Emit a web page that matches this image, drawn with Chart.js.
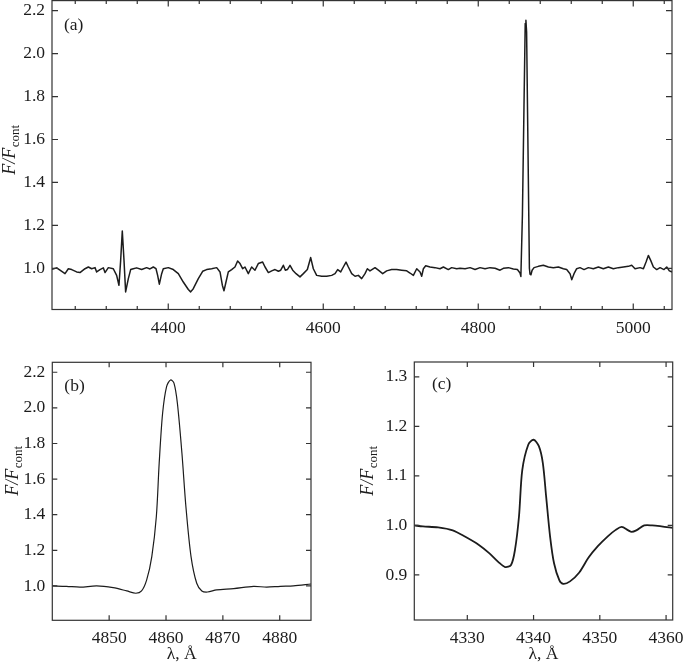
<html lang="en">
<head>
  <meta charset="UTF-8">
  <title>Spectrum</title>
  <script src="https://cdn.jsdelivr.net/npm/chart.js"></script>
  <style>
    body { margin: 0; background: #fff; }
    canvas { position: absolute; }
  </style>
</head>
<body>
  <canvas id="panelA" width="685" height="345" style="left:0; top:0; width:685px; height:345px;"></canvas>
  <canvas id="panelB" width="340" height="323" style="left:0; top:345px; width:340px; height:323px;"></canvas>
  <canvas id="panelC" width="345" height="323" style="left:340px; top:345px; width:345px; height:323px;"></canvas>

  <script>
    // (a) full spectrum, wavelength in A and normalized flux
    const lamA = [
      4250, 4256.0, 4260.3, 4266.8, 4271.1, 4275.4, 4281.8, 4286.1, 4292.6, 4296.9, 4301.2, 4305.5, 4307.6, 4311.9, 4316.2, 4318.4,
      4322.7, 4329.1, 4333.4, 4336.4, 4338.6, 4340.7, 4342.9, 4345.0, 4348.5, 4351.5, 4354.9, 4359.2, 4365.7, 4372.1, 4376.4, 4380.7,
      4384.2, 4386.3, 4388.5, 4391.5, 4393.6, 4400.1, 4406.5, 4413.0, 4419.4, 4425.9, 4428.9, 4432.3, 4438.8, 4444.4, 4449.5, 4456.0,
      4462.5, 4466.8, 4469.8, 4471.9, 4474.5, 4477.5, 4481.8, 4486.1, 4489.5, 4492.6, 4496.0, 4499.0, 4503.3, 4507.6, 4511.9, 4516.2,
      4521.8, 4524.9, 4529.2, 4533.5, 4537.8, 4542.1, 4545.1, 4548.5, 4551.1, 4553.7, 4557.1, 4560.6, 4564.9, 4570.0, 4574.3, 4579.5,
      4583.8, 4587.2, 4591.5, 4598.0, 4604.4, 4610.9, 4615.2, 4618.6, 4622.5, 4625.9, 4629.4, 4632.4, 4636.7, 4641.0, 4645.3, 4649.6,
      4653.9, 4656.9, 4660.3, 4666.8, 4671.1, 4676.7, 4681.8, 4688.3, 4694.7, 4701.2, 4707.7, 4711.9, 4716.3, 4720.6, 4724.9, 4727.0,
      4729.2, 4732.2, 4737.8, 4744.2, 4750.7, 4755.0, 4761.4, 4765.7, 4772.2, 4776.5,
      4783.0, 4789.4, 4795.9, 4802.3, 4808.8, 4815.2, 4821.7, 4828.1, 4832.4, 4838.9, 4845.3, 4850.5, 4853.9,
      4855.0, 4857.0, 4859.0, 4860.6, 4861.5, 4862.4, 4864.2, 4866.0, 4866.8, 4868.0,
      4869.5, 4872.0, 4877.6, 4884.0, 4890.5, 4896.9,
      4903.4, 4909.8, 4914.1, 4918.4, 4920.6, 4923.6, 4927.0, 4931.3, 4936.5, 4942.1, 4948.5, 4955.0, 4961.4, 4967.9, 4974.3, 4980.8,
      4987.3, 4993.7, 4998.0, 5002.3, 5008.8, 5013.1, 5016.5, 5019.5, 5022.5, 5026.0, 5030.3, 5034.6, 5039.7, 5043.2, 5046.6, 5050
    ];
    const fluxA = [
      0.995, 1.002, 0.991, 0.975, 0.998, 0.994, 0.983, 0.980, 0.998, 1.006, 0.998, 1.003, 0.983, 0.994, 1.002, 0.980,
      1.003, 0.998, 0.967, 0.921, 1.037, 1.174, 1.037, 0.890, 0.952, 0.994, 0.998, 1.002, 0.994, 1.003, 0.997, 1.006,
      0.998, 0.967, 0.926, 0.975, 0.998, 1.003, 0.994, 0.975, 0.936, 0.901, 0.890, 0.905, 0.952, 0.986, 0.994, 0.998,
      1.003, 0.983, 0.921, 0.895, 0.936, 0.983, 0.994, 1.006, 1.034, 1.022, 0.998, 1.006, 0.975, 1.006, 0.991, 1.022,
      1.029, 1.006, 0.980, 0.988, 0.994, 0.986, 0.991, 1.014, 0.991, 0.994, 1.014, 0.991, 0.975, 0.960, 0.975, 0.994,
      1.050, 0.998, 0.967, 0.963, 0.963, 0.967, 0.975, 0.994, 0.983, 1.006, 1.029, 1.006, 0.975, 0.963, 0.967, 0.952,
      0.975, 0.998, 0.988, 1.003, 0.991, 0.975, 0.988, 0.994, 0.994, 0.991, 0.988, 0.978, 0.967, 0.998, 0.983, 0.963,
      0.998, 1.012, 1.006, 1.003, 0.998, 1.006, 0.994, 1.003, 0.998, 1.000,
      0.998, 1.003, 0.994, 1.003, 0.998, 1.003, 1.000, 0.991, 1.000, 1.003, 0.997, 0.994, 0.978,
      0.962, 1.250, 1.750, 2.140, 2.155, 2.100, 1.550, 1.000, 0.972, 0.970,
      0.991, 1.003, 1.009, 1.014, 1.006, 1.003,
      1.006, 0.998, 0.994, 0.975, 0.947, 0.975, 0.998, 1.003, 0.994, 1.003, 0.998, 1.006, 0.998, 1.006, 0.998, 1.003,
      1.006, 1.009, 1.014, 0.998, 1.003, 0.998, 1.029, 1.060, 1.037, 1.006, 0.994, 1.003, 0.994, 1.006, 0.988, 0.983
    ];

    // (b) H-beta region
    const lamB = [4840, 4842.5, 4844.9, 4847.8, 4850.7, 4853.1, 4854.7, 4855.7, 4856.6, 4857.5, 4858.3, 4858.8, 4859.4, 4860.1, 4860.8,
      4861.4, 4862.0, 4862.8, 4863.5, 4864.4, 4865.4, 4866.3, 4867.3, 4868.9, 4871.9, 4875.4, 4877.7, 4880.1, 4882.4, 4885.5];
    const fluxB = [1.000, 0.998, 0.993, 1.000, 0.990, 0.972, 0.959, 0.972, 1.034, 1.165, 1.390, 1.690, 1.970, 2.120, 2.157,
      2.139, 2.026, 1.745, 1.445, 1.165, 1.015, 0.972, 0.966, 0.978, 0.985, 0.998, 0.993, 0.998, 1.000, 1.011];

    // (c) H-gamma region
    const lamC = [4322, 4323.3, 4325.6, 4327.8, 4329.7, 4331.7, 4333.3, 4334.7, 4335.7, 4336.6, 4337.2, 4337.8, 4338.3, 4339.2,
      4340.0, 4340.8, 4341.4, 4341.9, 4342.5, 4343.1, 4343.9, 4344.5, 4345.5, 4346.9, 4348.3, 4349.7, 4351.2, 4352.4,
      4353.3, 4354.3, 4354.8, 4355.5, 4356.7, 4357.9, 4359.3, 4361];
    const fluxC = [1.000, 0.998, 0.996, 0.990, 0.977, 0.961, 0.944, 0.926, 0.916, 0.920, 0.951, 1.018, 1.112, 1.163,
      1.173, 1.160, 1.126, 1.058, 0.977, 0.923, 0.889, 0.882, 0.887, 0.905, 0.935, 0.958, 0.978, 0.991,
      0.997, 0.990, 0.987, 0.990, 1.000, 1.000, 0.998, 0.995];

    // tick values
    const xTicksA = [4400, 4600, 4800, 5000];
    const xMinorStepA = 40;
    const yTicksA = [1.0, 1.2, 1.4, 1.6, 1.8, 2.0, 2.2];
    const xTicksB = [4850, 4860, 4870, 4880];
    const yTicksB = [1.0, 1.2, 1.4, 1.6, 1.8, 2.0, 2.2];
    const xTicksC = [4330, 4340, 4350, 4360];
    const yTicksC = [0.9, 1.0, 1.1, 1.2, 1.3];

    const SERIF = '"Liberation Serif", "DejaVu Serif", serif';
    const INK = '#1c1c1c';

    // box frame with inward ticks on all sides, y title with subscript, panel letter
    const frameTicks = {
      id: 'frameTicks',
      afterDatasetsDraw(chart, args, o) {
        const { ctx, chartArea: a, scales: { x, y } } = chart;
        ctx.save();
        ctx.strokeStyle = '#333';
        ctx.lineWidth = 1.2;
        ctx.strokeRect(a.left, a.top, a.right - a.left, a.bottom - a.top);
        ctx.beginPath();
        x.ticks.forEach(t => {
          const px = x.getPixelForValue(t.value);
          const len = t.label === '' ? o.minor : o.major;
          ctx.moveTo(px, a.bottom); ctx.lineTo(px, a.bottom - len);
          ctx.moveTo(px, a.top); ctx.lineTo(px, a.top + len);
        });
        y.ticks.forEach(t => {
          const py = y.getPixelForValue(t.value);
          ctx.moveTo(a.left, py); ctx.lineTo(a.left + o.ylen, py);
          ctx.moveTo(a.right, py); ctx.lineTo(a.right - o.ylen, py);
        });
        ctx.stroke();

        ctx.fillStyle = INK;
        ctx.textBaseline = 'middle';
        ctx.textAlign = 'left';
        ctx.font = '17.5px ' + SERIF;
        ctx.fillText(o.label, o.labelX, o.labelY);

        ctx.translate(o.titleX, o.titleY);
        ctx.rotate(-Math.PI / 2);
        ctx.textBaseline = 'alphabetic';
        ctx.font = 'italic 18px ' + SERIF;
        const w1 = ctx.measureText('F/F').width;
        ctx.font = '13px ' + SERIF;
        const w2 = ctx.measureText('cont').width;
        const sx = -(w1 + w2) / 2;
        ctx.font = 'italic 18px ' + SERIF;
        ctx.fillText('F/F', sx, 0);
        ctx.font = '13px ' + SERIF;
        ctx.fillText('cont', sx + w1 + 0.5, 3.5);
        ctx.restore();
      }
    };

    function makePanel(id, p) {
      const pts = p.lam.map((l, i) => ({ x: l, y: p.flux[i] }));
      return new Chart(document.getElementById(id), {
        type: 'line',
        data: {
          datasets: [{
            data: pts,
            borderColor: INK,
            borderWidth: p.lw,
            pointRadius: 0,
            borderJoinStyle: 'round',
            tension: p.tension
          }]
        },
        options: {
          responsive: false,
          animation: false,
          events: [],
          layout: { padding: { left: 0, top: p.top, right: p.right, bottom: 0 } },
          plugins: {
            legend: { display: false },
            tooltip: { enabled: false },
            frameTicks: p.frame
          },
          scales: {
            x: {
              type: 'linear',
              min: p.xmin,
              max: p.xmax,
              grid: { display: false, drawTicks: false },
              border: { display: false },
              afterBuildTicks: s => { s.ticks = p.xticks.map(v => ({ value: v })); },
              afterFit: s => { s.height = p.xh; s.paddingLeft = 0; s.paddingRight = 0; },
              ticks: {
                autoSkip: false,
                maxRotation: 0,
                padding: 8,
                color: INK,
                font: { family: SERIF, size: 17.5 },
                callback: v => p.xmajor.includes(v) ? String(v) : ''
              },
              title: {
                display: p.xtitle,
                text: 'λ, Å',
                color: INK,
                font: { family: SERIF, size: 17.5 },
                padding: { top: 0, bottom: 3 }
              }
            },
            y: {
              type: 'linear',
              min: p.ymin,
              max: p.ymax,
              grid: { display: false, drawTicks: false },
              border: { display: false },
              afterBuildTicks: s => { s.ticks = p.yticks.map(v => ({ value: v })); },
              afterFit: s => { s.width = p.yw; s.paddingTop = 0; s.paddingBottom = 0; },
              ticks: {
                autoSkip: false,
                padding: 7,
                color: INK,
                font: { family: SERIF, size: 17.5 },
                callback: v => v.toFixed(1)
              }
            }
          }
        },
        plugins: [frameTicks]
      });
    }

    // minor ticks of panel (a) between the labelled ones
    const xAllA = [];
    for (let v = 4280; v <= 5040; v += xMinorStepA) xAllA.push(v);

    makePanel('panelA', {
      lam: lamA, flux: fluxA, lw: 1.5, tension: 0,
      xmin: 4250, xmax: 5050, ymin: 0.808, ymax: 2.247,
      xticks: xAllA, xmajor: xTicksA, yticks: yTicksA,
      top: 0.6, right: 13, xh: 35.5, yw: 52, xtitle: false,
      frame: { major: 6, minor: 3.5, ylen: 6, label: '(a)', labelX: 64, labelY: 25, titleX: 15, titleY: 150 }
    });

    makePanel('panelB', {
      lam: lamB, flux: fluxB, lw: 1.2, tension: 0.3,
      xmin: 4840, xmax: 4885.5, ymin: 0.807, ymax: 2.256,
      xticks: xTicksB, xmajor: xTicksB, yticks: yTicksB,
      top: 17.3, right: 29, xh: 47.7, yw: 52.3, xtitle: true,
      frame: { major: 5, minor: 5, ylen: 5, label: '(b)', labelX: 64.3, labelY: 41, titleX: 18, titleY: 126 }
    });

    makePanel('panelC', {
      lam: lamC, flux: fluxC, lw: 1.8, tension: 0.3,
      xmin: 4322, xmax: 4361, ymin: 0.809, ymax: 1.33,
      xticks: xTicksC, xmajor: xTicksC, yticks: yTicksC,
      top: 17, right: 12.3, xh: 48, yw: 74.3, xtitle: true,
      frame: { major: 5, minor: 5, ylen: 5, label: '(c)', labelX: 92, labelY: 39, titleX: 33, titleY: 126 }
    });
  </script>
</body>
</html>
